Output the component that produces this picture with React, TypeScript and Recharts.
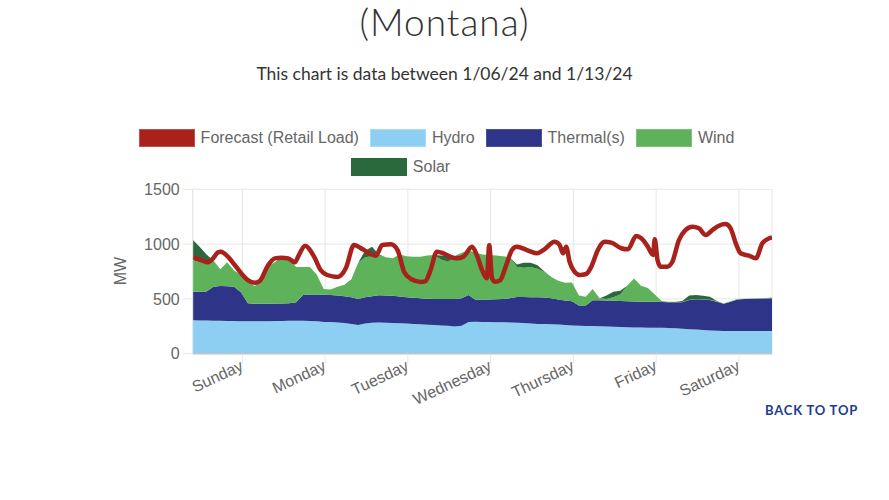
import React from 'react';
import { ComposedChart, Area, Line, XAxis, YAxis, CartesianGrid } from 'recharts';

// Hours since the start of the window (Sat 1/06 morning), 2-hour steps
const HOURS = [
  0, 2, 4, 6, 8, 10, 12, 14, 16, 18, 20, 22, 24, 26, 28, 30, 32, 34, 36, 38,
  40, 42, 44, 46, 48, 50, 52, 54, 56, 58, 60, 62, 64, 66, 68, 70, 72, 74, 76, 78,
  80, 82, 84, 86, 88, 90, 92, 94, 96, 98, 100, 102, 104, 106, 108, 110, 112, 114, 116, 118,
  120, 122, 124, 126, 128, 130, 132, 134, 136, 138, 140, 142, 144, 146, 148, 150, 152, 154, 156, 158,
  160, 162, 164, 166, 168,
];

// Generation by source, MW (stacked in this order)
const HYDRO = [
  305, 303, 302, 300, 300, 298, 298, 297, 296, 296, 296, 297, 298, 299, 300, 300, 300, 298, 296, 290,
  290, 285, 280, 270, 262, 275, 283, 285, 283, 280, 277, 275, 271, 268, 265, 262, 258, 255, 248, 255,
  290, 292, 290, 290, 288, 286, 284, 282, 280, 276, 272, 270, 268, 266, 262, 258, 255, 253, 252, 250,
  248, 246, 244, 242, 240, 238, 237, 237, 236, 234, 232, 228, 224, 220, 216, 212, 210, 208, 207, 207,
  207, 207, 207, 207, 207,
];
const THERMAL = [
  261, 263, 266, 310, 318, 317, 314, 263, 164, 159, 159, 159, 160, 159, 160, 170, 235, 242, 244, 248,
  245, 245, 245, 245, 238, 240, 242, 248, 249, 248, 245, 241, 239, 237, 237, 238, 242, 245, 252, 250,
  245, 200, 202, 205, 209, 214, 221, 236, 238, 240, 243, 242, 237, 229, 223, 220, 185, 187, 236, 237,
  237, 236, 236, 236, 236, 237, 237, 237, 236, 236, 238, 241, 266, 276, 278, 278, 265, 247, 268, 288,
  291, 293, 295, 296, 298,
];
const WIND = [
  289, 274, 257, 235, 152, 220, 148, 160, 205, 160, 245, 344, 382, 410, 395, 320, 255, 250, 180, 52,
  50, 80, 105, 165, 330, 365, 365, 362, 348, 342, 383, 374, 375, 380, 393, 400, 360, 340, 380, 415,
  410, 428, 413, 405, 398, 390, 375, 272, 267, 274, 260, 233, 195, 170, 163, 172, 90, 80, 102, 18,
  15, 33, 60, 142, 209, 145, 126, 66, 8, 4, 3, 3, 3, 3, 3, 3, 3, 3, 3, 3,
  3, 3, 3, 4, 7,
];
const SOLAR = [
  185, 135, 80, 5, 0, 0, 0, 0, 0, 0, 0, 0, 0, 12, 10, 0, 0, 0, 0, 0,
  0, 0, 0, 0, 0, 60, 85, 10, 0, 0, 0, 0, 0, 0, 0, 0, 35, 50, 10, 0,
  0, 0, 0, 0, 0, 0, 0, 25, 45, 40, 33, 5, 0, 0, 0, 0, 0, 0, 0, 0,
  30, 50, 35, 0, 0, 0, 0, 0, 0, 0, 0, 8, 37, 36, 31, 27, 2, 0, 0, 0,
  0, 0, 0, 0, 0,
];

// Forecast retail load, MW
const FORECAST_HOURS = [
  0, 2.4, 4.4, 5.9, 7.3, 8.2, 10.2, 12.2, 14.1, 16.0, 18.0, 19.4, 21.9, 23.8, 25.7, 27.7, 29.6, 30.8, 32.6, 35.2,
  37.1, 39.0, 42.0, 44.4, 46.8, 49.2, 51.7, 53.1, 55.0, 57.5, 59.4, 61.3, 63.3, 66.2, 67.4, 69.0, 70.8, 72.7, 74.7, 76.6,
  78.5, 81.0, 82.4, 83.9, 85.3, 86.0, 86.8, 87.7, 89.2, 90.6, 92.6, 94.0, 96.9, 99.8, 102.0, 104.9, 106.4, 107.4, 108.3, 109.3,
  110.7, 112.2, 114.1, 115.6, 117.5, 119.4, 121.4, 124.3, 126.2, 128.6, 130.1, 132.0, 133.5, 134.0, 134.8, 135.7, 137.6, 139.1, 141.0, 142.9,
  144.9, 146.8, 148.8, 150.7, 152.6, 154.5, 156.0, 157.5, 158.9, 161.3, 163.3, 165.2, 167.2, 168,
];
const FORECAST_MW = [
  880, 855, 834, 870, 925, 931, 885, 809, 733, 672, 648, 663, 809, 870, 876, 870, 834, 900, 985, 885,
  764, 718, 700, 779, 992, 955, 907, 894, 992, 998, 946, 748, 682, 655, 660, 764, 931, 916, 885, 870,
  885, 976, 900, 764, 688, 990, 688, 657, 672, 779, 946, 976, 946, 916, 952, 1022, 992, 916, 976, 839,
  748, 718, 727, 794, 946, 1022, 1013, 962, 952, 1074, 1053, 976, 900, 1045, 855, 794, 794, 839, 1037, 1128,
  1159, 1144, 1083, 1128, 1168, 1183, 1144, 1007, 916, 894, 870, 1007, 1053, 1060,
];

// Midnight of each day, in hours since the start
const DAY_TICKS = [14.4, 38.4, 62.4, 86.4, 110.4, 134.4, 158.4];
const DAY_LABELS = ['Sunday', 'Monday', 'Tuesday', 'Wednesday', 'Thursday', 'Friday', 'Saturday'];
const Y_TICKS = [0, 500, 1000, 1500];

const LEGEND_ROW_1 = [
  { name: 'Forecast (Retail Load)', color: '#a8211b', border: '#c0504a' },
  { name: 'Hydro', color: '#8ccff2', border: '#a9dcf5' },
  { name: 'Thermal(s)', color: '#2e3588', border: '#4a509a' },
  { name: 'Wind', color: '#5db25a', border: '#7cc27a' },
];
const LEGEND_ROW_2 = [{ name: 'Solar', color: '#2a693c', border: '#2a693c' }];

const COLORS = {
  forecast: '#a8211b',
  hydro: '#8ccff2',
  thermal: '#2e3588',
  wind: '#5db25a',
  solar: '#2a693c',
};

const areaRows = HOURS.map((t, i) => ({
  t,
  hydro: HYDRO[i],
  thermal: THERMAL[i],
  wind: WIND[i],
  solar: SOLAR[i],
}));
const forecastRows = FORECAST_HOURS.map((t, i) => ({ t, forecast: FORECAST_MW[i] }));

const SANS = '"Liberation Sans", Arial, Helvetica, sans-serif';

const DayTick = (props: any) => {
  const { x, y, payload } = props;
  const idx = DAY_TICKS.indexOf(payload.value);
  const label = idx >= 0 ? DAY_LABELS[idx] : '';
  const ax = x + 2;
  const ay = y + 4;
  return (
    <text
      x={ax}
      y={ay}
      transform={`rotate(-25, ${ax}, ${ay})`}
      textAnchor="end"
      fill="#666"
      fontSize={16}
      fontFamily={SANS}
    >
      {label}
    </text>
  );
};

const LegendItem = ({ name, color, border }: { name: string; color: string; border: string }) => (
  <div style={{ display: 'flex', alignItems: 'center', marginRight: 11 }}>
    <div
      style={{
        width: 56,
        height: 18,
        background: color,
        boxSizing: 'border-box',
        border: `1px solid ${border}`,
        marginRight: 6,
      }}
    />
    <span style={{ fontFamily: SANS, fontSize: 16, color: '#666', whiteSpace: 'nowrap' }}>{name}</span>
  </div>
);

export default function App() {
  return (
    <div style={{ position: 'absolute', left: 0, top: 0, width: 889, height: 500, background: '#fff', overflow: 'hidden' }}>
      <div
        style={{
          position: 'absolute',
          top: 1,
          left: 0,
          width: 889,
          textAlign: 'center',
          fontFamily: 'Lato, sans-serif',
          fontWeight: 300,
          fontSize: 37,
          letterSpacing: 1,
          lineHeight: '42px',
          color: '#333',
        }}
      >
        (Montana)
      </div>
      <div
        style={{
          position: 'absolute',
          top: 64,
          left: 0,
          width: 889,
          textAlign: 'center',
          fontFamily: 'Lato, sans-serif',
          fontSize: 17.5,
          lineHeight: '20px',
          color: '#333',
        }}
      >
        This chart is data between 1/06/24 and 1/13/24
      </div>

      <div style={{ position: 'absolute', top: 129, left: 0, width: 884, display: 'flex', justifyContent: 'center' }}>
        {LEGEND_ROW_1.map((it) => (
          <LegendItem key={it.name} {...it} />
        ))}
      </div>
      <div style={{ position: 'absolute', top: 158, left: 0, width: 812, display: 'flex', justifyContent: 'center' }}>
        {LEGEND_ROW_2.map((it) => (
          <LegendItem key={it.name} {...it} />
        ))}
      </div>

      <div style={{ position: 'absolute', left: 0, top: 0 }}>
        <ComposedChart
          width={889}
          height={500}
          data={areaRows}
          margin={{ top: 189.3, right: 117, bottom: 86.3, left: 112.7 }}
        >
          <CartesianGrid stroke="#e6e6e6" strokeWidth={1} />
          <XAxis
            dataKey="t"
            type="number"
            domain={[0, 168]}
            ticks={DAY_TICKS}
            interval={0}
            height={60}
            tick={<DayTick />}
            tickSize={10}
            tickMargin={2}
            tickLine={{ stroke: '#e6e6e6' }}
            axisLine={{ stroke: '#c4c4c4', strokeWidth: 1.5 }}
            allowDataOverflow
          />
          <YAxis
            type="number"
            domain={[0, 1500]}
            ticks={Y_TICKS}
            interval={0}
            width={80}
            tickSize={10}
            tickMargin={3}
            tickLine={{ stroke: '#e6e6e6' }}
            axisLine={{ stroke: '#e6e6e6' }}
            tick={{ fill: '#666', fontSize: 16, fontFamily: SANS }}
            allowDataOverflow
          />
          <Area
            type="linear"
            dataKey="hydro"
            stackId="gen"
            stroke="none"
            fill={COLORS.hydro}
            fillOpacity={1}
            isAnimationActive={false}
          />
          <Area
            type="linear"
            dataKey="thermal"
            stackId="gen"
            stroke="none"
            fill={COLORS.thermal}
            fillOpacity={1}
            isAnimationActive={false}
          />
          <Area
            type="linear"
            dataKey="wind"
            stackId="gen"
            stroke="none"
            fill={COLORS.wind}
            fillOpacity={1}
            isAnimationActive={false}
          />
          <Area
            type="linear"
            dataKey="solar"
            stackId="gen"
            stroke="none"
            fill={COLORS.solar}
            fillOpacity={1}
            isAnimationActive={false}
          />
          <Line
            data={forecastRows}
            type="monotone"
            dataKey="forecast"
            stroke={COLORS.forecast}
            strokeWidth={4.5}
            dot={false}
            isAnimationActive={false}
          />
        </ComposedChart>
      </div>

      <div
        style={{
          position: 'absolute',
          left: 121,
          top: 271,
          transform: 'translate(-50%, -50%) rotate(-90deg)',
          fontFamily: SANS,
          fontSize: 16,
          color: '#666',
          whiteSpace: 'nowrap',
        }}
      >
        MW
      </div>

      <div
        style={{
          position: 'absolute',
          left: 765,
          top: 402,
          fontFamily: 'Lato, sans-serif',
          fontWeight: 700,
          fontSize: 13,
          letterSpacing: 0.8,
          color: '#1d3c8f',
          whiteSpace: 'nowrap',
        }}
      >
        BACK TO TOP
      </div>
    </div>
  );
}
